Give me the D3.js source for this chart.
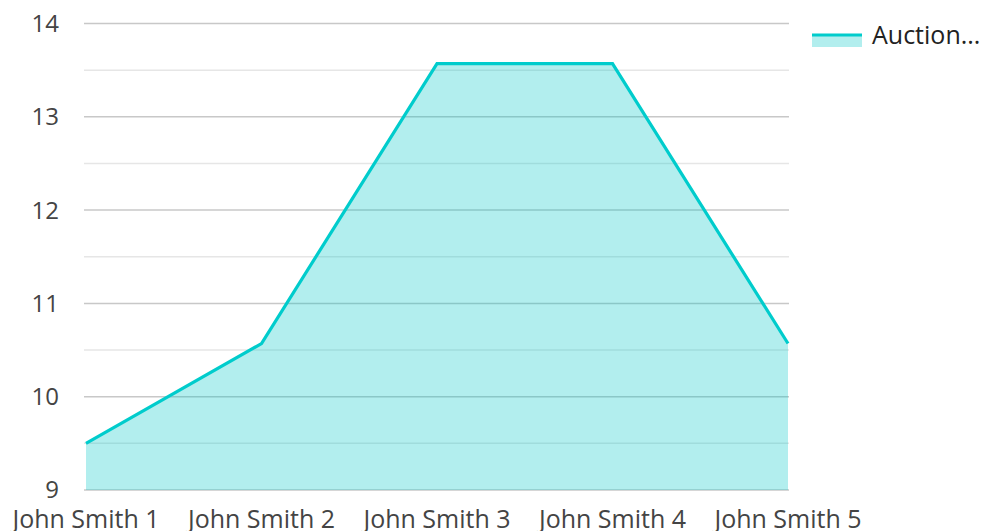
<!DOCTYPE html>
<html>
<head>
<meta charset="utf-8">
<script src="https://cdn.jsdelivr.net/npm/d3@7"></script>
<style>
  body { margin: 0; background: #fff; }
  text { font-family: "Open Sans", sans-serif; }
</style>
</head>
<body>
<script>
const categories = ['John Smith 1', 'John Smith 2', 'John Smith 3', 'John Smith 4', 'John Smith 5']
const values = [9.5, 10.57, 13.57, 13.57, 10.57]
const seriesName = 'Auction...'
const yTicks = [9, 10, 11, 12, 13, 14]
const minorTicks = [9.5, 10.5, 11.5, 12.5, 13.5]

const margin = {top: 23.5, bottom: 41, left: 86, right: 194}
const width = 982 - margin.left - margin.right
const height = 531 - margin.top - margin.bottom

const svg = d3.select('body').append('svg')
  .attr('width', 982)
  .attr('height', 531)

const g = svg.append('g')
  .attr('transform', `translate(${margin.left},${margin.top})`)

const xScale = d3.scalePoint().domain(categories).range([0, width])
const yScale = d3.scaleLinear().domain([9, 14]).range([height, 0])

// minor grid
g.append('g').selectAll('line').data(minorTicks).join('line')
  .attr('x1', -2).attr('x2', width + 1)
  .attr('y1', d => yScale(d)).attr('y2', d => yScale(d))
  .attr('stroke', '#e6e6e6').attr('stroke-width', 1.5)

// major grid
g.append('g').selectAll('line').data(yTicks).join('line')
  .attr('x1', -2).attr('x2', width + 1)
  .attr('y1', d => yScale(d)).attr('y2', d => yScale(d))
  .attr('stroke', '#c8c8c8').attr('stroke-width', 1.5)

const pts = categories.map((c, i) => ({c, v: values[i]}))

const area = d3.area()
  .x(d => xScale(d.c))
  .y0(height)
  .y1(d => yScale(d.v))

g.append('path').datum(pts)
  .attr('d', area)
  .attr('fill', '#00c8c8')
  .attr('fill-opacity', 0.3)

const line = d3.line()
  .x(d => xScale(d.c))
  .y(d => yScale(d.v))

g.append('path').datum(pts)
  .attr('d', line)
  .attr('fill', 'none')
  .attr('stroke', '#00cccc')
  .attr('stroke-width', 3.2)
  .attr('stroke-linejoin', 'miter')

// y labels
g.append('g').selectAll('text').data(yTicks).join('text')
  .attr('x', -27)
  .attr('y', d => yScale(d))
  .attr('dy', '0.35em')
  .attr('text-anchor', 'end')
  .attr('font-size', 24)
  .attr('fill', '#444')
  .text(d => d)

// x labels
g.append('g').selectAll('text').data(categories).join('text')
  .attr('x', d => xScale(d))
  .attr('y', height + 37.5)
  .attr('text-anchor', 'middle')
  .attr('font-size', 25)
  .attr('fill', '#444')
  .text(d => d)

// legend
const lg = svg.append('g').attr('transform', 'translate(812,35)')
lg.append('rect').attr('x', 0).attr('y', 0).attr('width', 50).attr('height', 12)
  .attr('fill', '#00c8c8').attr('fill-opacity', 0.3)
lg.append('line').attr('x1', 0).attr('x2', 50).attr('y1', 0).attr('y2', 0)
  .attr('stroke', '#00cccc').attr('stroke-width', 3.2)
lg.append('text').attr('x', 60).attr('y', 9)
  .attr('font-size', 25).attr('fill', '#222')
  .text(seriesName)
</script>
</body>
</html>
